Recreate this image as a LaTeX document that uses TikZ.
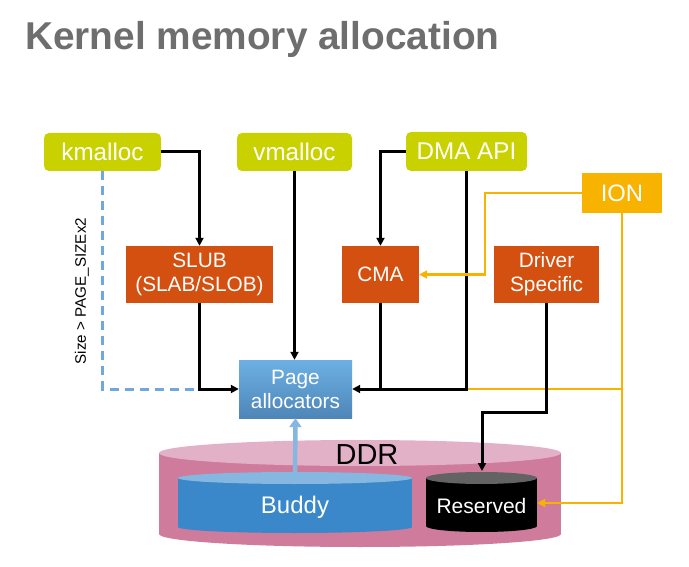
\documentclass[tikz,border=0pt]{standalone}
\usepackage{fontspec}
\setmainfont{Liberation Sans}
\usetikzlibrary{arrows.meta,calc}
\definecolor{cgreen}{HTML}{C9D200}
\definecolor{cion}{HTML}{F8B200}
\definecolor{corange}{HTML}{D45011}
\definecolor{cpagetop}{HTML}{6DB0E4}
\definecolor{cpagebot}{HTML}{4E86B7}
\definecolor{cddrtop}{HTML}{E3B1C7}
\definecolor{cddrbody}{HTML}{CF7B9C}
\definecolor{cbudtop}{HTML}{86B7E0}
\definecolor{cbudbody}{HTML}{3A88C9}
\definecolor{crestop}{HTML}{636363}
\definecolor{cdash}{HTML}{6FA8DC}
\definecolor{ctitle}{HTML}{6E6E6E}
\begin{document}
\begin{tikzpicture}[x=1pt,y=-1pt,
  greenbox/.style={fill=cgreen,text=white,rounded corners=5pt,inner sep=0pt,font=\fontsize{24.2}{26}\selectfont},
  orbox/.style={fill=corange,text=white,inner sep=0pt,align=center,font=\fontsize{20.8}{24}\selectfont},
  blk/.style={line width=3pt,black,-{Triangle[length=8pt,width=8pt]}},
  blkline/.style={line width=3pt,black},
  orng/.style={line width=2.8pt,cion,-{Triangle[length=8pt,width=8pt]}},
  orngline/.style={line width=2.8pt,cion},
  dashline/.style={line width=3pt,cdash,dash pattern=on 9pt off 6pt},
  bluearrow/.style={line width=4.5pt,cbudtop,-{Triangle[length=9pt,width=12pt]}},
]
\useasboundingbox (0,0) rectangle (689,567);
\fill[white] (0,0) rectangle (689,567);

% title
\node[anchor=base west,inner sep=0pt,text=ctitle,font=\bfseries\fontsize{38.8}{42}\selectfont] (title) at (25,50) {Kernel memory allocation};

% DDR cylinder
\fill[cddrbody] (159,453) rectangle (561,534);
\fill[cddrbody] (360,534) ellipse [x radius=201,y radius=13];
\fill[cddrtop] (360,453) ellipse [x radius=201,y radius=13];
\node[inner sep=0pt,font=\fontsize{29}{32}\selectfont] (ddr) at (367,455) {DDR};

% Buddy cylinder
\fill[cbudbody] (178,478) rectangle (412,527);
\fill[cbudbody] (295,527) ellipse [x radius=117,y radius=6];
\fill[cbudtop] (295,478) ellipse [x radius=117,y radius=6];
\node[inner sep=0pt,text=white,font=\fontsize{24}{26}\selectfont] (buddy) at (295,507) {Buddy};
\coordinate (buddytop) at (295,478);

% Reserved cylinder
\fill[black] (426,478) rectangle (537,526);
\fill[black] (481.5,526) ellipse [x radius=55.5,y radius=6];
\fill[crestop] (481.5,478) ellipse [x radius=55.5,y radius=6];
\node[inner sep=0pt,text=white,minimum width=111pt,font=\fontsize{21}{24}\selectfont] (reserved) at (481.5,506) {Reserved};
\coordinate (restop) at (482,471);

% boxes
\node[greenbox,minimum width=117pt,minimum height=38pt] (kmalloc) at (102.5,152) {kmalloc};
\node[greenbox,minimum width=115pt,minimum height=38pt] (vmalloc) at (294.5,152) {vmalloc};
\node[greenbox,minimum width=121pt,minimum height=39pt] (dma) at (466.5,151.5) {DMA API};
\node[fill=cion,text=white,inner sep=0pt,minimum width=80pt,minimum height=40pt,font=\fontsize{23.8}{26}\selectfont] (ion) at (622,193) {ION};
\node[orbox,minimum width=147pt,minimum height=57pt] (slub) at (199.5,274.5) {SLUB\\(SLAB/SLOB)};
\node[orbox,minimum width=77pt,minimum height=57pt] (cma) at (380.5,274.5) {CMA};
\node[orbox,minimum width=105pt,minimum height=57pt] (driver) at (546.5,274.5) {Driver\\Specific};
\node[top color=cpagetop,bottom color=cpagebot,text=white,inner sep=0pt,align=center,minimum width=113pt,minimum height=58pt,font=\fontsize{20.8}{24}\selectfont] (page) at (295.5,389) {Page\\allocators};

% label
\node[rotate=90,inner sep=0pt,font=\fontsize{15.2}{17}\selectfont] (sizelbl) at (82,291) {Size > PAGE\_SIZEx2};

% connectors
\coordinate (dashend) at (195,389);
\draw[dashline] (kmalloc.south) |- (dashend);
\draw[blk] (kmalloc.east) -| (slub.north);
\draw[blk] (slub.south) |- (page.west);
\draw[blk] (vmalloc.south) -- (vmalloc.south |- page.north);
\draw[blk] (dma.west) -| (cma.north);
\draw[orngline] (ion.south |- page.east) -- (dma.south |- page.east);
\draw[blkline] (cma.south) -- (cma.south |- page.east);
\draw[blk] (dma.south) |- (page.east);
\coordinate (ionbend) at (485,193);
\draw[orng] (ion.west) -- (ionbend) |- (cma.east);
\draw[orng] (ion.south) |- ([yshift=3pt]reserved.east);
\coordinate (dbend) at (482,412);
\draw[blk] (driver.south) |- (dbend) -- (restop);
\draw[bluearrow] (buddytop) -- (page.south);
\end{tikzpicture}
\end{document}
